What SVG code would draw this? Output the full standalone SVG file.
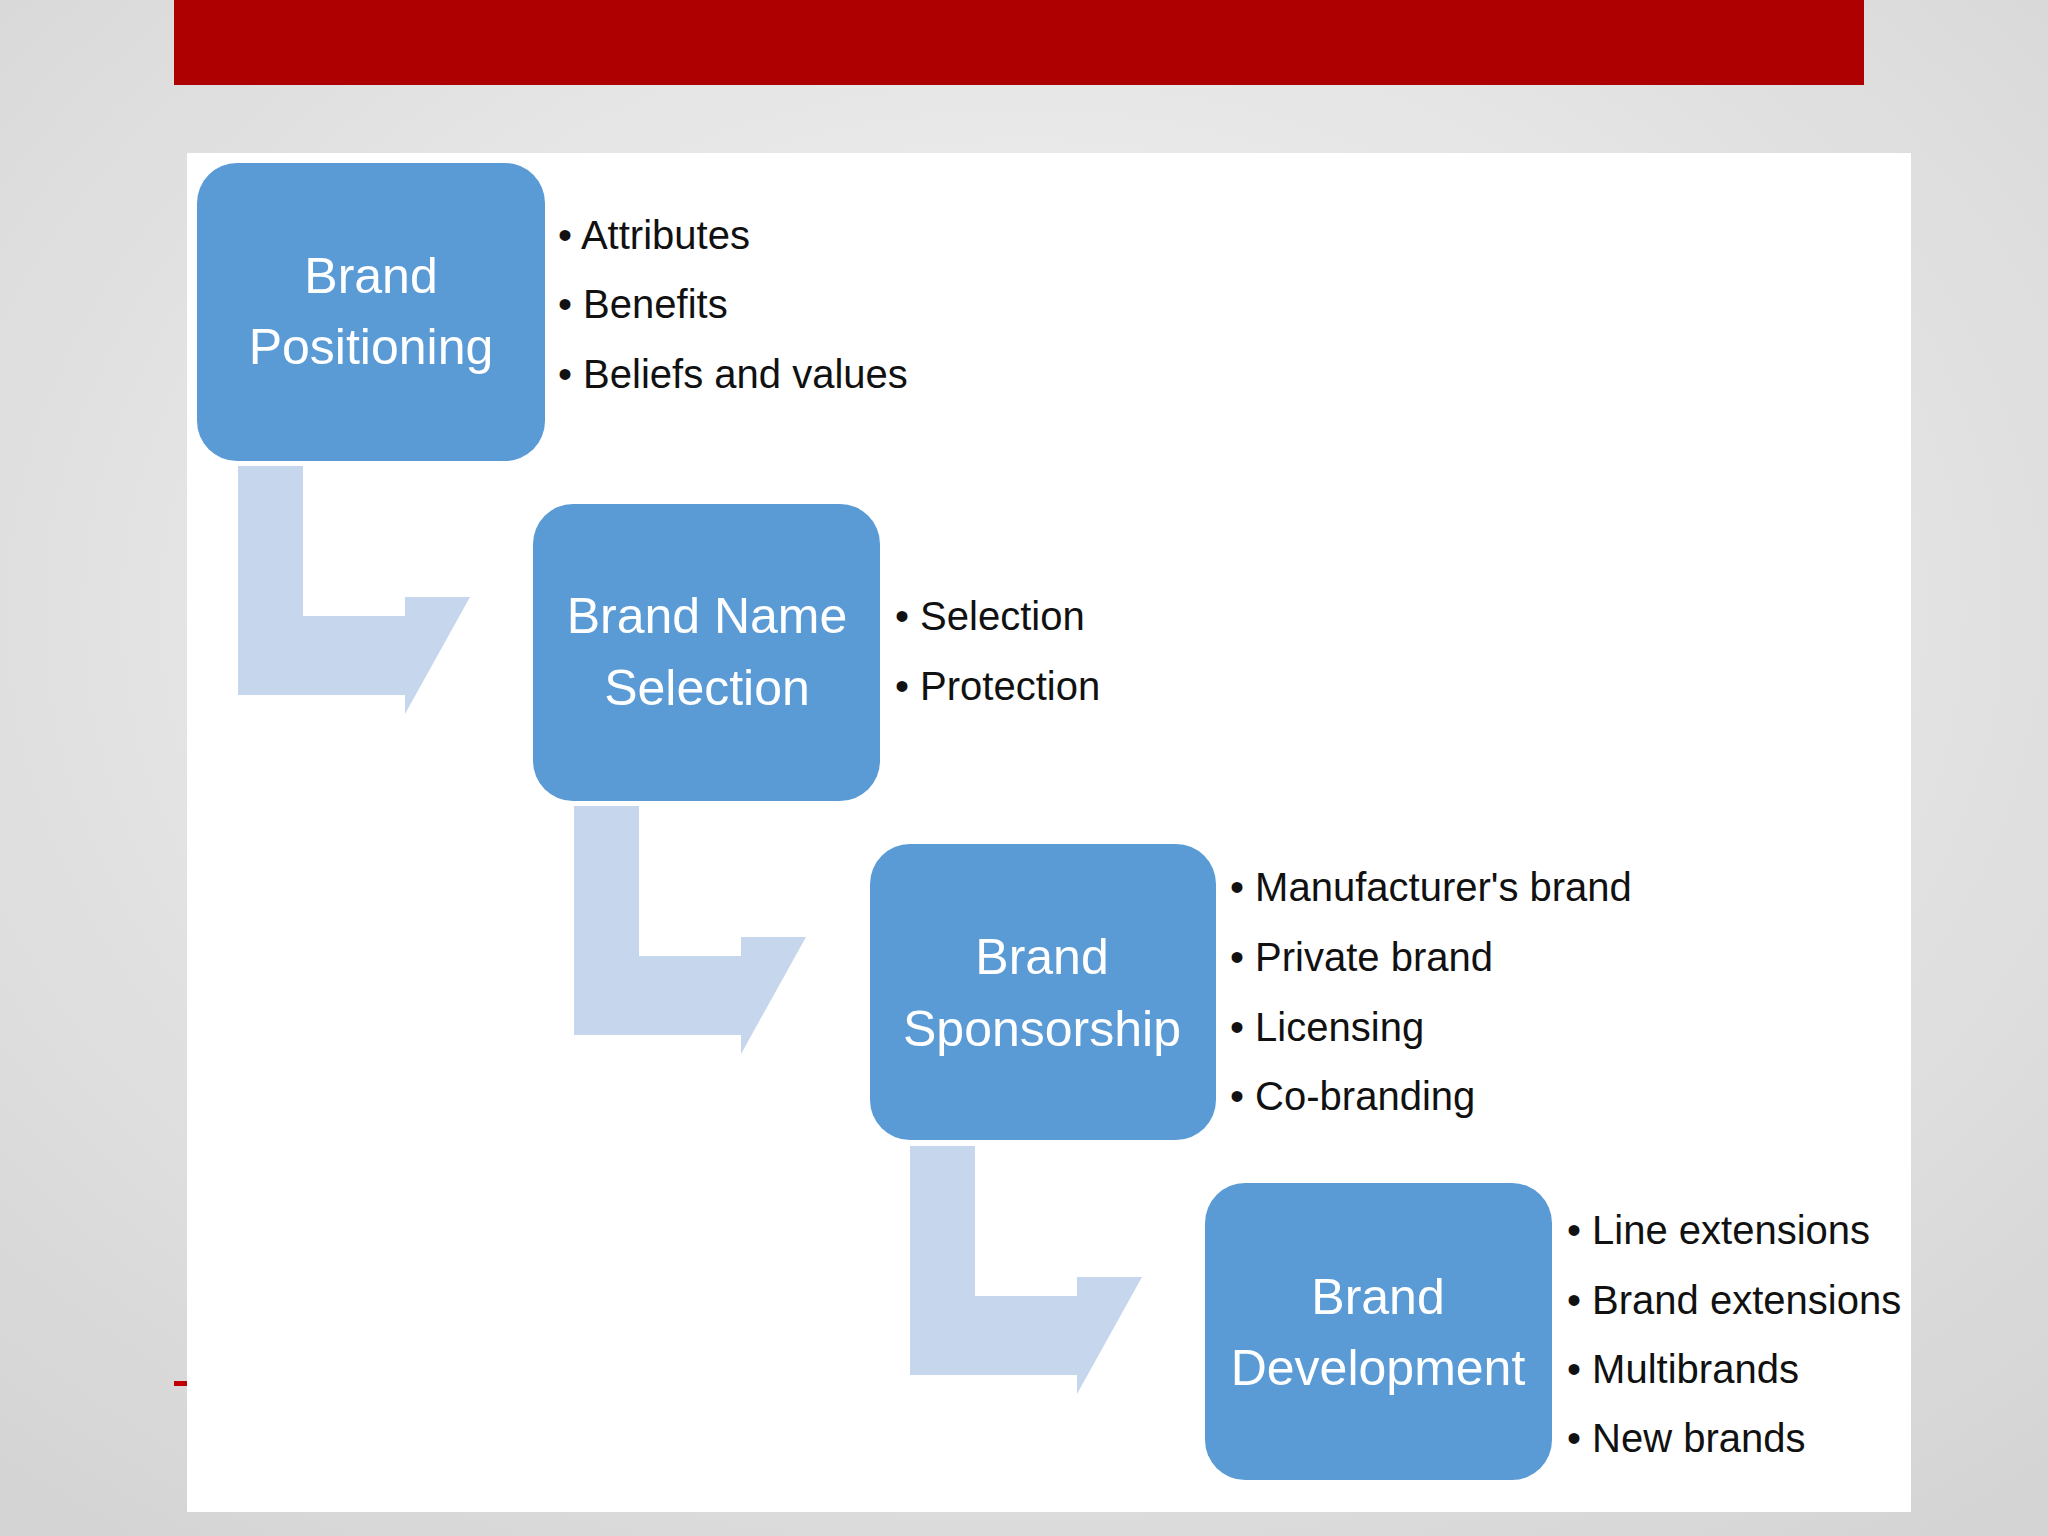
<svg xmlns="http://www.w3.org/2000/svg" width="2048" height="1536" viewBox="0 0 2048 1536">
<defs>
<radialGradient id="bg" cx="50%" cy="40%" r="75%"><stop offset="0" stop-color="#f7f7f7"/><stop offset="1" stop-color="#d4d4d4"/></radialGradient>
<path id="arr" d="M0,0 H65 V150 H167 V131 H232 L167,248 V229 H0 Z"/>
</defs>
<style>
.box{fill:#5b9bd5}
.t{font-family:"Liberation Sans",Arial,sans-serif;font-size:50px;fill:#fff;text-anchor:middle}
.b{font-family:"Liberation Sans",Arial,sans-serif;font-size:40px;fill:#111}
.a{fill:#c6d6ec}
</style>
<rect width="2048" height="1536" fill="url(#bg)"/>
<rect x="174" y="0" width="1690" height="85" fill="#ae0000"/>
<rect x="174" y="1381" width="14" height="5" fill="#c00000"/>
<rect x="187" y="153" width="1724" height="1359" fill="#ffffff"/>
<g id="connectors">
<use href="#arr" x="238" y="466" class="a"/>
<use href="#arr" x="574" y="806" class="a"/>
<use href="#arr" x="910" y="1146" class="a"/>
</g>
<g id="n1"><rect class="box" x="197" y="163" width="348" height="298" rx="40"/>
<text class="t" x="371" y="293">Brand</text><text class="t" x="371" y="364">Positioning</text>
<text class="b" x="558" y="249">• Attributes</text><text class="b" x="558" y="318">• Benefits</text><text class="b" x="558" y="388">• Beliefs and values</text></g>
<g id="n2"><rect class="box" x="533" y="504" width="347" height="297" rx="40"/>
<text class="t" x="707" y="633">Brand Name</text><text class="t" x="707" y="705">Selection</text>
<text class="b" x="895" y="630">• Selection</text><text class="b" x="895" y="700">• Protection</text></g>
<g id="n3"><rect class="box" x="870" y="844" width="346" height="296" rx="40"/>
<text class="t" x="1042" y="974">Brand</text><text class="t" x="1042" y="1046">Sponsorship</text>
<text class="b" x="1230" y="901">• Manufacturer's brand</text><text class="b" x="1230" y="971">• Private brand</text><text class="b" x="1230" y="1041">• Licensing</text><text class="b" x="1230" y="1110">• Co-branding</text></g>
<g id="n4"><rect class="box" x="1205" y="1183" width="347" height="297" rx="40"/>
<text class="t" x="1378" y="1314">Brand</text><text class="t" x="1378" y="1385">Development</text>
<text class="b" x="1567" y="1244">• Line extensions</text><text class="b" x="1567" y="1314">• Brand extensions</text><text class="b" x="1567" y="1383">• Multibrands</text><text class="b" x="1567" y="1452">• New brands</text></g>
</svg>
